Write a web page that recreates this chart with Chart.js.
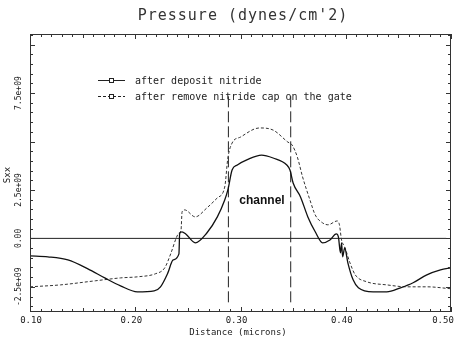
<!DOCTYPE html>
<html>
<head>
<meta charset="utf-8">
<script src="https://cdn.jsdelivr.net/npm/chart.js@4.4.1/dist/chart.umd.min.js"></script>
<style>
  html, body { margin: 0; padding: 0; background: #ffffff; }
  canvas { display: block; }
</style>
</head>
<body>
<canvas id="c" width="474" height="356"></canvas>
<script>
// ---- Data (Sxx in units of 1e9 dynes/cm^2, distance in microns) ----
const distanceDeposit = [0.100,0.117,0.136,0.155,0.171,0.186,0.202,0.218,0.224,0.231,0.236,0.2415,0.2422,0.2444,0.248,0.257,0.268,0.278,0.285,0.288,0.292,0.297,0.306,0.320,0.331,0.344,0.347,0.350,0.357,0.364,0.371,0.378,0.385,0.391,0.393,0.395,0.396,0.397,0.399,0.402,0.407,0.412,0.426,0.439,0.452,0.464,0.477,0.490,0.500];
const sxxDeposit = [-0.90,-0.95,-1.11,-1.57,-2.04,-2.45,-2.76,-2.71,-2.50,-1.78,-1.11,-0.80,0.25,0.34,0.23,-0.23,0.28,1.11,1.98,2.50,3.53,3.79,4.05,4.30,4.15,3.79,3.53,2.86,2.14,1.11,0.34,-0.23,-0.08,0.23,0.08,-0.75,-0.23,-0.95,-0.49,-1.26,-2.14,-2.55,-2.76,-2.76,-2.55,-2.29,-1.88,-1.62,-1.52];

const distanceRemove = [0.100,0.129,0.162,0.186,0.203,0.219,0.228,0.234,0.239,0.2415,0.2435,0.2445,0.247,0.257,0.268,0.278,0.285,0.288,0.292,0.300,0.318,0.331,0.345,0.349,0.354,0.359,0.366,0.371,0.378,0.383,0.392,0.394,0.396,0.399,0.404,0.409,0.420,0.439,0.458,0.477,0.500];
const sxxRemove = [-2.50,-2.40,-2.19,-2.04,-1.98,-1.83,-1.52,-0.75,0.03,0.28,0.44,1.37,1.47,1.11,1.57,2.09,2.65,4.15,4.92,5.23,5.70,5.59,4.97,4.82,4.20,3.17,1.98,1.21,0.80,0.70,0.90,0.70,-0.08,-0.44,-1.26,-1.88,-2.24,-2.40,-2.50,-2.50,-2.60];

const seriesLabels = ['after deposit nitride', 'after remove nitride cap on the gate'];
const gateEdges = [0.2885, 0.3477];          // channel boundaries (microns)
const gateLineRange = [-3.3, 7.35];          // vertical extent of boundary lines (1e9)
const zeroLineRange = [0.100, 0.4955];

const xTickValues = [0.10, 0.20, 0.30, 0.40, 0.50];
const xTickLabels = ['0.10', '0.20', '0.30', '0.40', '0.50'];
const yTickValues = [-2.5, 0, 2.5, 7.5];
const yTickLabels = ['-2.5e+09', '0.00', '2.5e+09', '7.5e+09'];

const titleText = "Pressure (dynes/cm'2)";
const xTitle = 'Distance (microns)';
const yTitle = 'Sxx';
const annotationText = 'channel';

const toPts = (xs, ys) => xs.map((x, i) => ({ x: x, y: ys[i] }));

const MONO = '"DejaVu Sans Mono", "Liberation Mono", monospace';

const decorPlugin = {
  id: 'decor',
  afterDraw(chart) {
    const ctx = chart.ctx;
    const xs = chart.scales.x, ys = chart.scales.y;
    const L = chart.chartArea.left, R = chart.chartArea.right;
    const T = chart.chartArea.top, B = chart.chartArea.bottom;
    ctx.save();
    // frame
    ctx.strokeStyle = '#333';
    ctx.lineWidth = 1;
    ctx.strokeRect(L + 0.5, T + 0.5, R - L - 1, B - T - 1);
    // x ticks (inward, top and bottom)
    ctx.beginPath();
    for (let i = 0; i <= 40; i++) {
      const v = 0.10 + i * 0.01;
      const px = Math.round(xs.getPixelForValue(v)) + 0.5;
      const len = (i % 10 === 0) ? 5 : (i % 5 === 0 ? 4 : 3);
      ctx.moveTo(px, B); ctx.lineTo(px, B - len);
      ctx.moveTo(px, T); ctx.lineTo(px, T + len);
    }
    // y ticks (inward, left and right)
    for (let i = -7; i <= 21; i++) {
      const v = i * 0.5;
      const py = Math.round(ys.getPixelForValue(v)) + 0.5;
      if (py < T || py > B) continue;
      const len = (i % 5 === 0) ? 5 : 3;
      ctx.moveTo(L, py); ctx.lineTo(L + len, py);
      ctx.moveTo(R, py); ctx.lineTo(R - len, py);
    }
    ctx.stroke();

    // title
    ctx.fillStyle = '#333';
    ctx.textAlign = 'center';
    ctx.textBaseline = 'middle';
    ctx.font = '15px ' + MONO;
    try { ctx.letterSpacing = '1px'; } catch (e) {}
    ctx.fillText(titleText, 243, 16);
    try { ctx.letterSpacing = '0px'; } catch (e) {}

    // x tick labels
    ctx.font = '9px ' + MONO;
    ctx.fillStyle = '#222';
    xTickValues.forEach((v, i) => {
      const px = xs.getPixelForValue(v);
      let cx = px - 4;
      if (i === 0) cx = px + 1;
      if (i === xTickValues.length - 1) cx = px - 8;
      ctx.fillText(xTickLabels[i], cx, B + 9);
    });
    // x title
    ctx.fillText(xTitle, 238, B + 21);

    // y tick labels (rotated)
    ctx.font = '8px ' + MONO;
    yTickValues.forEach((v, i) => {
      const py = ys.getPixelForValue(v);
      ctx.save();
      ctx.translate(19, py);
      ctx.rotate(-Math.PI / 2);
      ctx.fillText(yTickLabels[i], 0, 0);
      ctx.restore();
    });
    // y title
    ctx.save();
    ctx.font = '9px ' + MONO;
    ctx.translate(8, 175);
    ctx.rotate(-Math.PI / 2);
    ctx.fillText(yTitle, 0, 0);
    ctx.restore();

    // legend
    const legendRows = [
      { y: 80, dash: [], ds: 0 },
      { y: 96, dash: [3, 2], ds: 1 }
    ];
    ctx.font = '10px ' + MONO;
    ctx.textAlign = 'left';
    legendRows.forEach(r => {
      ctx.strokeStyle = '#222';
      ctx.lineWidth = 1;
      ctx.setLineDash(r.dash);
      ctx.beginPath();
      ctx.moveTo(98, r.y + 0.5); ctx.lineTo(125, r.y + 0.5);
      ctx.stroke();
      ctx.setLineDash([]);
      ctx.fillStyle = '#fff';
      ctx.fillRect(109, r.y - 2, 5, 5);
      ctx.strokeRect(109.5, r.y - 1.5, 4, 4);
      ctx.fillStyle = '#222';
      ctx.fillText(chart.data.datasets[r.ds].label, 135, r.y + 1);
    });

    // annotation
    ctx.font = 'bold 12px "Liberation Sans", Arial, sans-serif';
    ctx.textAlign = 'center';
    ctx.fillStyle = '#111';
    ctx.fillText(annotationText, 262, 201);
    ctx.restore();
  }
};

new Chart(document.getElementById('c'), {
  type: 'line',
  data: {
    datasets: [
      {
        label: seriesLabels[0],
        data: toPts(distanceDeposit, sxxDeposit),
        borderColor: '#111',
        borderWidth: 1.3,
        pointRadius: 0,
        cubicInterpolationMode: 'monotone',
        fill: false
      },
      {
        label: seriesLabels[1],
        data: toPts(distanceRemove, sxxRemove),
        borderColor: '#333',
        borderWidth: 1,
        borderDash: [3, 2],
        pointRadius: 0,
        cubicInterpolationMode: 'monotone',
        fill: false
      },
      {
        label: 'zero',
        data: toPts(zeroLineRange, [0, 0]),
        borderColor: '#222',
        borderWidth: 1,
        pointRadius: 0,
        fill: false
      },
      {
        label: 'gate left',
        data: [{ x: gateEdges[0], y: gateLineRange[0] }, { x: gateEdges[0], y: gateLineRange[1] }],
        borderColor: '#222',
        borderWidth: 1,
        borderDash: [11, 4],
        pointRadius: 0,
        fill: false
      },
      {
        label: 'gate right',
        data: [{ x: gateEdges[1], y: gateLineRange[0] }, { x: gateEdges[1], y: gateLineRange[1] }],
        borderColor: '#222',
        borderWidth: 1,
        borderDash: [11, 4],
        pointRadius: 0,
        fill: false
      }
    ]
  },
  options: {
    responsive: false,
    animation: false,
    devicePixelRatio: 1,
    layout: { padding: { left: 30, right: 23, top: 34, bottom: 44 } },
    plugins: { legend: { display: false }, title: { display: false }, tooltip: { enabled: false } },
    scales: {
      x: { type: 'linear', min: 0.10, max: 0.50, display: false },
      y: { type: 'linear', min: -3.8, max: 10.55, display: false }
    }
  },
  plugins: [decorPlugin]
});
</script>
</body>
</html>
